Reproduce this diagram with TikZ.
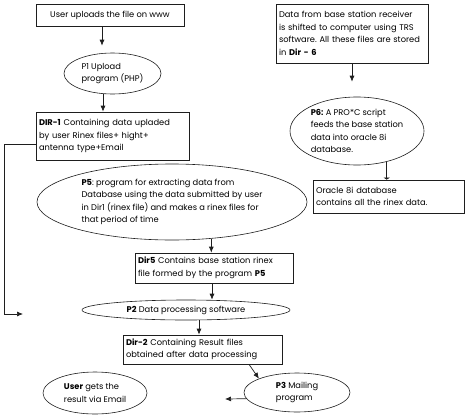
\documentclass[tikz,border=0pt]{standalone}
\usepackage{fontspec}
\setmainfont{Poppins}
\usepackage{tikz}
\usetikzlibrary{
	arrows.meta, shapes.geometric, positioning, calc
}
\definecolor{flowline}{RGB}{30, 30, 30}
\frenchspacing

\tikzset{
	box/.style={draw=flowline, line width=0.7pt, align=left, inner sep=3pt},
	proc/.style={draw=flowline, ellipse, line width=0.6pt, align=left, inner sep=-60pt},
	arr/.style={draw=flowline, line width=0.7pt, -{Latex[length=6pt,width=5pt]}},
	barr/.style={draw=flowline, line width=0.7pt, -{Latex[length=2pt,width=7pt]}}
}

\begin{document}
\begin{tikzpicture}[x=1pt, y=-1pt, font=\fontsize{8.3}{12.5}\selectfont]
	\useasboundingbox (0,0) rectangle (474,418);
	% left column
	\node[box, align=center, minimum width=148pt, minimum height=22pt] (upload) at (110,15) {User uploads the file on www};
	\node[proc, minimum width=97pt, minimum height=41pt] (p1) at (112.5,73.5) {P1 Upload\\program (PHP)};
	\node[box, text width=147pt, minimum height=48pt] (dir1) at (112.5,136) {\textbf{DIR-1} Containing data upladed\\by user Rinex files+ hight+\\antenna type+Email};
	% right column
	\node[box, text width=146pt, minimum height=59pt] (dsix) at (352,33.5) {Data from base station receiver\\is shifted to computer using TRS\\software. All these files are stored\\in \textbf{Dir - 6}};
	\node[proc, minimum width=134pt, minimum height=68pt] (p6) at (357,131) {\textbf{P6:} A PRO*C script\\feeds the base station\\data into oracle 8i\\database.};
	\node[box, text width=145pt, minimum height=33pt] (oracle) at (388.5,196.5) {Oracle 8i database\\contains all the rinex data.};
	% middle
	\node[proc, minimum width=270pt, minimum height=76pt] (p5) at (172,202) {\textbf{P5}: program for extracting data from\\Database using the data submitted by user\\in Dir1 (rinex file) and makes a rinex files for\\that period of time};
	\node[box, text width=152pt, minimum height=30pt] (dir5) at (214,268) {\textbf{Dir5} Contains base station rinex\\file formed by the program \textbf{P5}};
	\node[proc, align=center, minimum width=208pt, minimum height=20pt] (p2) at (186,310) {\textbf{P2} Data processing software};
	\node[box, text width=153pt, minimum height=29pt] (dir2) at (202.5,349.5) {\textbf{Dir-2} Containing Result files\\obtained after data processing};
	\node[proc, minimum width=106pt, minimum height=39pt] (p3) at (297,392.5) {\textbf{P3} Mailing\\program};
	\node[proc, minimum width=104pt, minimum height=42pt] (user) at (95,393) {\textbf{User} gets the\\result via Email};
	\coordinate (leftend) at (23,314);
	\coordinate (mailend) at (225,399);

	% connectors
	\draw[arr, shorten >=7pt] (upload.south -| 102,0) -- (p1.north -| 102,0);
	\draw[arr] (p1.south -| 103,0) -- (dir1.north -| 103,0);
	\draw[arr] (dir1.west |- 0,144) -| (4,314) -- (leftend);
	\draw[arr, shorten >=15pt] (dsix.south -| 352,0) -- (p6.north -| 352,0);
	\draw[barr] (p6.-46) -- (p6.-46 |- oracle.north);
	\draw[arr] (p5.-43) -- (p5.-43 |- dir5.north);
	\draw[arr] (dir5.south -| 212,0) -- (p2.north -| 212,0);
	\draw[arr] (p2.south -| 199,0) -- (dir2.north -| 199,0);
	\draw[arr] (dir2.south -| 249,0) -- (p3.160);
	\draw[arr] (p3.187) -- (mailend);
\end{tikzpicture}
\end{document}
